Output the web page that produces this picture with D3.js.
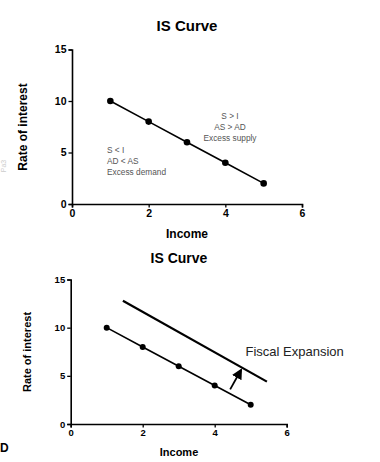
<!DOCTYPE html>
<html><head><meta charset="utf-8">
<script src="https://cdn.jsdelivr.net/npm/d3@7"></script>
<style>body{margin:0;background:#fff;}svg{display:block;font-family:Arial,"Liberation Sans",sans-serif;}</style>
</head><body>
<script>
const incomes = [1, 2, 3, 4, 5];
const rates = [10, 8, 6, 4, 2];
const shiftedIncome = [1.45, 5.45];
const shiftedRate = [12.8, 4.4];
const arrowIncome = [4.43, 4.73];
const arrowRate = [3.6, 5.6];
const xTicks = [0, 2, 4, 6];
const yTicks = [0, 5, 10, 15];
const topNotesRight = ["S > I", "AS > AD", "Excess supply"];
const topNotesLeft = ["S < I", "AD < AS", "Excess demand"];

const svg = d3.select("body").append("svg").attr("width", 380).attr("height", 462);
svg.append("defs").append("marker").attr("id","ah").attr("viewBox","0 0 10 10")
  .attr("refX",8).attr("refY",5).attr("markerWidth",6).attr("markerHeight",6)
  .attr("orient","auto").append("path").attr("d","M0,0L10,5L0,10z").attr("fill","#000");

function panel(o) {
  const x = d3.scaleLinear().domain([0, 6]).range([o.x0, o.x1]);
  const y = d3.scaleLinear().domain([0, 15]).range([o.y0, o.y1]);
  const g = svg.append("g");
  const xa = g.append("g").attr("transform", `translate(0,${o.y0})`)
    .call(d3.axisBottom(x).tickValues(xTicks).tickFormat(d3.format("d")).tickSize(3.5).tickPadding(2));
  const ya = g.append("g").attr("transform", `translate(${o.x0},0)`)
    .call(d3.axisLeft(y).tickValues(yTicks).tickFormat(d3.format("d")).tickSize(3.5).tickPadding(2));
  [xa, ya].forEach(a => {
    a.select(".domain").attr("stroke", "#000").attr("stroke-width", 1.6);
    a.selectAll(".tick line").attr("stroke", "#000").attr("stroke-width", 1.3);
    a.selectAll("text").attr("fill", "#000").attr("font-weight", "bold")
      .attr("font-size", o.tickFs).attr("font-family", "Arial, 'Liberation Sans', sans-serif");
  });
  g.append("text").attr("x", o.titleX).attr("y", o.titleY).attr("text-anchor", "middle")
    .attr("font-weight", "bold").attr("font-size", o.titleFs).text("IS Curve");
  g.append("text").attr("x", o.titleX).attr("y", o.xlabY).attr("text-anchor", "middle")
    .attr("font-weight", "bold").attr("font-size", o.labFs).text("Income");
  g.append("text").attr("transform", `translate(${o.ylabX},${o.ylabCY}) rotate(-90)`)
    .attr("text-anchor", "middle").attr("font-weight", "bold").attr("font-size", o.labFs)
    .text("Rate of interest");
  const pts = incomes.map((d, i) => [x(d), y(rates[i])]);
  g.append("path").attr("d", d3.line()(pts)).attr("fill", "none").attr("stroke", "#000").attr("stroke-width", 1.6);
  g.selectAll("circle.p").data(pts).join("circle").attr("cx", d => d[0]).attr("cy", d => d[1])
    .attr("r", o.r).attr("fill", "#000");
  return {x, y, g};
}

const top1 = panel({x0: 72, x1: 302, y0: 204, y1: 49.5, titleX: 187, titleY: 31, xlabY: 238,
  ylabX: 27, ylabCY: 127, tickFs: 10.5, titleFs: 15, labFs: 12, r: 3.3});
topNotesRight.forEach((t, i) => top1.g.append("text").attr("x", 230).attr("y", 119 + i * 10.8)
  .attr("text-anchor", "middle").attr("font-size", 8.3).attr("fill", "#555").text(t));
topNotesLeft.forEach((t, i) => top1.g.append("text").attr("x", 107).attr("y", 153 + i * 10.8)
  .attr("font-size", 8.3).attr("fill", "#555").text(t));

const bot = panel({x0: 70.7, x1: 286.7, y0: 424, y1: 279.5, titleX: 179, titleY: 263, xlabY: 456,
  ylabX: 31, ylabCY: 352, tickFs: 9.5, titleFs: 14, labFs: 11, r: 3});
bot.g.append("path").attr("d", d3.line()(shiftedIncome.map((d, i) => [bot.x(d), bot.y(shiftedRate[i])])))
  .attr("fill", "none").attr("stroke", "#000").attr("stroke-width", 2.2);
bot.g.append("path").attr("d", d3.line()(arrowIncome.map((d, i) => [bot.x(d), bot.y(arrowRate[i])])))
  .attr("fill", "none").attr("stroke", "#000").attr("stroke-width", 1.8).attr("marker-end", "url(#ah)");
bot.g.append("text").attr("x", 245.5).attr("y", 356).attr("font-size", 13).attr("fill", "#222")
  .text("Fiscal Expansion");

svg.append("text").attr("x", 0).attr("y", 452).attr("font-weight", "bold").attr("font-size", 12).text("D");
svg.append("text").attr("transform", "translate(6,166) rotate(-90)").attr("text-anchor", "middle")
  .attr("font-size", 7).attr("fill", "#ccc").text("Pa3");
</script>
</body></html>
